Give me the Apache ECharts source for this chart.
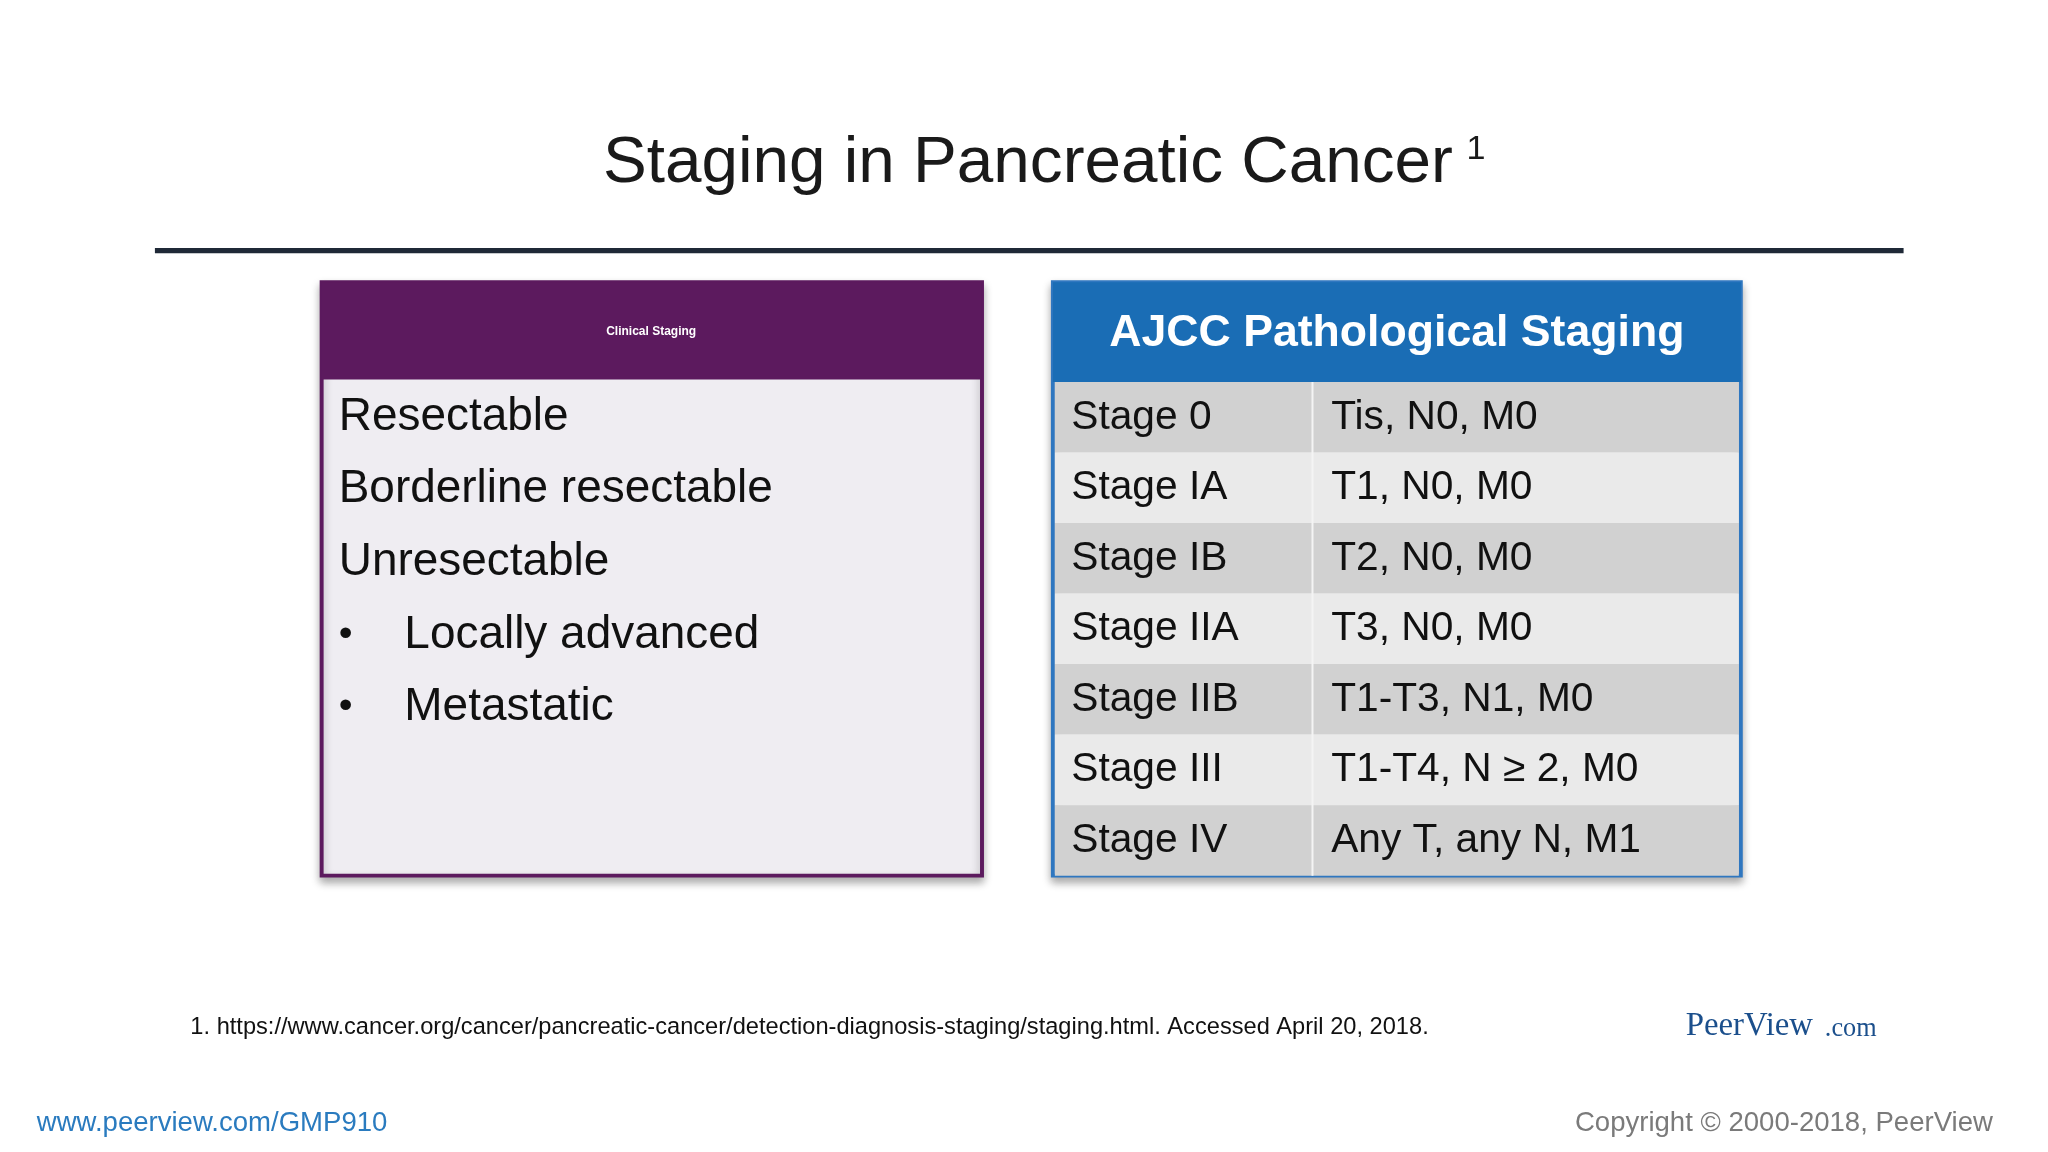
<!DOCTYPE html>
<html><head><meta charset="utf-8">
<script src="https://cdn.jsdelivr.net/npm/echarts@6/dist/echarts.min.js"></script>
<style>html,body{margin:0;background:#fff}#main{width:2048px;height:1152px}</style>
</head><body><div id="main"></div>
<script>
var titleText = 'Staging in Pancreatic Cancer';
var clinicalHeader = 'Clinical Staging';
var clinicalItems = ['Resectable', 'Borderline resectable', 'Unresectable'];
var clinicalBullets = ['Locally advanced', 'Metastatic'];
var ajccHeader = 'AJCC Pathological Staging';
var stages = ['Stage 0', 'Stage IA', 'Stage IB', 'Stage IIA', 'Stage IIB', 'Stage III', 'Stage IV'];
var tnm = ['Tis, N0, M0', 'T1, N0, M0', 'T2, N0, M0', 'T3, N0, M0', 'T1-T3, N1, M0', 'T1-T4, N \u2265 2, M0', 'Any T, any N, M1'];
var footnote = '1. https://www.cancer.org/cancer/pancreatic-cancer/detection-diagnosis-staging/staging.html. Accessed April 20, 2018.';

var S = 2048 / 1560;
var F = 'Liberation Sans, Arial, sans-serif';
function r(x, y, w, h, fill, extra) {
    var o = {type: 'rect', shape: {x: x * S, y: y * S, width: w * S, height: h * S}, style: {fill: fill}};
    if (extra) Object.assign(o.style, extra);
    return o;
}
function t(x, y, text, size, color, extra) {
    var o = {type: 'text', x: x * S, y: y * S, style: {text: text, font: size * S + 'px ' + F, fill: color, textVerticalAlign: 'middle'}};
    if (extra) Object.assign(o.style, extra);
    return o;
}

var els = [];
els.push(t(783, 125, titleText, 50, '#1a1a1a', {textAlign: 'center'}));
els.push(t(1117, 114, '1', 26, '#1a1a1a'));
els.push(r(118, 189, 1332, 4, '#1f2937'));

// left box
els.push(r(245, 215, 503, 452, '#efedf2', {stroke: '#5c1a5e', lineWidth: 3 * S, shadowBlur: 8, shadowOffsetY: 5, shadowColor: 'rgba(0,0,0,0.3)'}));
els.push(r(245, 215, 503, 74, '#5c1a5e'));
els.push(t(496, 253, clinicalHeader, 34, '#fff', {textAlign: 'center', fontWeight: 'bold', font: 'bold ' + 34 * S + 'px ' + F}));
clinicalItems.forEach(function (s, i) {
    els.push(t(258, 318 + i * 55, s, 35, '#111'));
});
clinicalBullets.forEach(function (s, i) {
    var y = 484 + i * 55;
    els.push(t(258, y, '\u2022', 30, '#111'));
    els.push(t(308, y, s, 35, '#111'));
});

// right table
var rowH = (667 - 291) / stages.length;
els.push(r(802, 215, 524, 452, '#e9e9e9', {stroke: '#2f77c0', lineWidth: 3 * S, shadowBlur: 8, shadowOffsetY: 5, shadowColor: 'rgba(0,0,0,0.3)'}));
els.push(r(802, 215, 524, 76, '#1a6db5'));
els.push(t(1064, 254, ajccHeader, 34, '#fff', {textAlign: 'center', font: 'bold ' + 34 * S + 'px ' + F}));
stages.forEach(function (s, i) {
    var y = 291 + i * rowH;
    els.push(r(803.5, y, 521, rowH, i % 2 === 0 ? '#d1d1d1' : '#eaeaea'));
    els.push(t(816, y + rowH / 2, s, 31, '#111'));
    els.push(t(1014, y + rowH / 2, tnm[i], 31, '#111'));
});
els.push(r(999, 291, 1.5, 376, '#f4f4f4'));

els.push(t(145, 783, footnote, 18, '#111'));
els.push(t(1284, 782, 'PeerView', 25, '#1b4f8c', {font: 25 * S + 'px Liberation Serif, serif'}));
els.push(t(1390, 784, '.com', 20, '#1b4f8c', {font: 20 * S + 'px Liberation Serif, serif'}));
els.push(t(28, 856, 'www.peerview.com/GMP910', 21, '#2a7bbf'));
els.push(t(1518, 856, 'Copyright \u00a9 2000-2018, PeerView', 21, '#7a7a7a', {textAlign: 'right'}));

var myChart = echarts.init(document.getElementById('main'));
myChart.setOption({backgroundColor: '#fff', graphic: {elements: els}});
</script></body></html>
